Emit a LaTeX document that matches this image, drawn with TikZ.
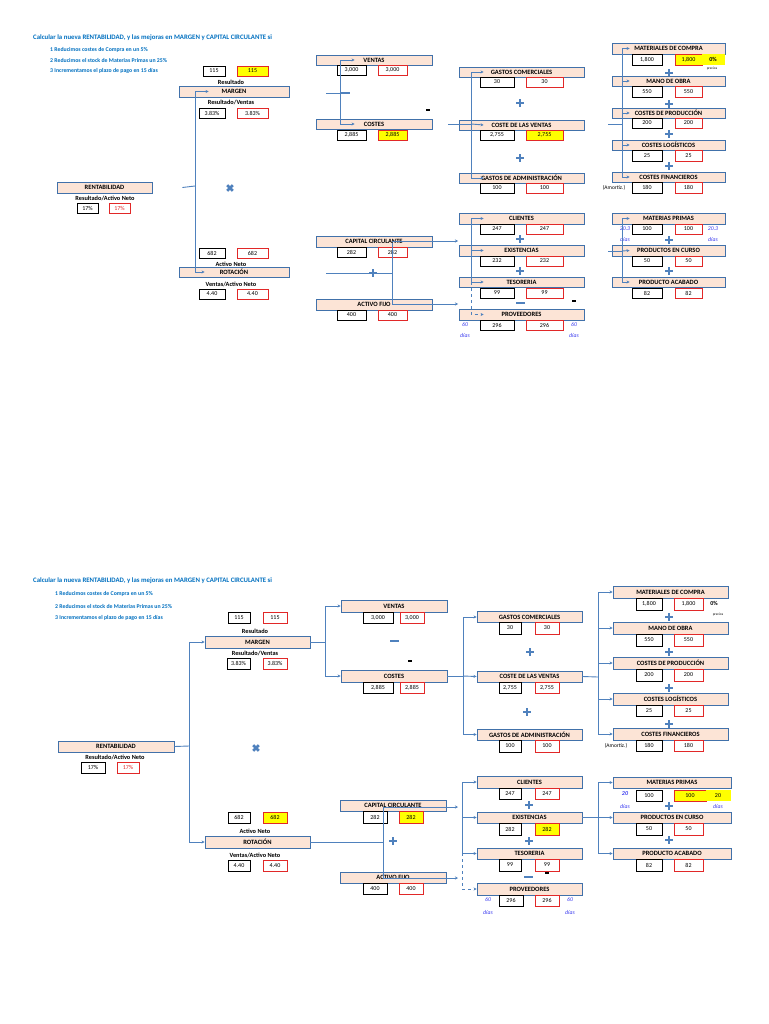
\documentclass[tikz,border=0pt]{standalone}
\usepackage{fontspec}
\setmainfont{Carlito}
\usetikzlibrary{arrows.meta}
\definecolor{hf}{RGB}{252,228,214}
\definecolor{hd}{RGB}{65,113,170}
\definecolor{cn}{RGB}{79,129,189}
\definecolor{tb}{RGB}{0,112,192}
\definecolor{dv}{RGB}{60,60,240}
\definecolor{rd}{RGB}{225,40,40}
\definecolor{yl}{RGB}{255,255,0}
\tikzset{
 hdr/.style={draw=hd,fill=hf,line width=0.9pt,inner sep=0pt,font=\fontsize{6.5}{7}\selectfont\bfseries},
 kb/.style={draw=black,line width=0.8pt,fill=white},
 rb/.style={draw=rd,line width=0.8pt,fill=white},
 yb/.style={draw=rd,line width=0.8pt,fill=yl},
 vt/.style={font=\fontsize{6}{7}\selectfont,inner sep=0pt},
 lab/.style={font=\fontsize{6.3}{7}\selectfont\bfseries,inner sep=0pt},
 con/.style={draw=cn,line width=0.9pt},
 arr/.style={con,-{Stealth[length=3pt,width=3pt]}},
 dsh/.style={arr,dashed},
 ttl/.style={font=\fontsize{5.8}{7}\selectfont\bfseries,text=tb,anchor=west,inner sep=0pt},
 ttlb/.style={ttl,font=\fontsize{6.8}{8}\selectfont\bfseries},
 dia/.style={font=\fontsize{5.8}{7}\selectfont\itshape,text=dv,inner sep=0pt},
}
\newcommand\hd[6]{\node[hdr,minimum width=#4pt,minimum height=#5pt] (#1) at (#2,#3) {#6};}
\newcommand\vb[6]{\draw[#1] (#2,#3) rectangle (#4,#5) node[midway,vt]{#6};}
\newcommand\plusg[2]{\fill[cn] (#1-4,#2-1.4) rectangle (#1+4,#2+1.4);\fill[cn] (#1-1.4,#2-4) rectangle (#1+1.4,#2+4);}
\newcommand\minusg[2]{\fill[cn] (#1-4.5,#2-1.4) rectangle (#1+4.5,#2+1.4);}
\newcommand\timesg[2]{\begin{scope}[rotate around={45:(#1,#2)}]\plusg{#1}{#2}\end{scope}}
\newcommand\dash[2]{\fill[black] (#1-1.6,#2-0.7) rectangle (#1+1.6,#2+0.7);}
\begin{document}
\begin{tikzpicture}[x=1pt,y=-1pt]
\useasboundingbox[fill=white] (0,0) rectangle (768,1024);
% ================= TOP PANEL =================
\node[ttlb] (t1) at (33,38) {Calcular la nueva RENTABILIDAD, y las mejoras en MARGEN y CAPITAL CIRCULANTE si};
\node[ttl] (t1a) at (50,50) {1 Reducimos costes de Compra en un 5\%};
\node[ttl] (t1b) at (50,60) {2 Reducimos el stock de Materias Primas un 25\%};
\node[ttl] (t1c) at (50,71) {3 Incrementamos el plazo de pago en 15 días};
\vb{kb}{203}{66}{225}{76}{115}\vb{yb}{237}{66}{268}{76}{115}
\node[lab] at (231,82) {Resultado};
\hd{margen1}{234}{91.5}{110}{11}{MARGEN}
\node[lab] at (231,102) {Resultado/Ventas};
\vb{kb}{199}{108}{225}{118}{3.83\%}\vb{rb}{237}{108}{268}{118}{3.83\%}
\hd{ventas1}{374}{60}{116}{10}{VENTAS}
\vb{kb}{337}{65}{366}{75}{3,000}\vb{rb}{378}{65}{407}{75}{3,000}
\minusg{345}{93}\dash{428}{110}
\hd{costes1}{374}{124}{116}{10}{COSTES}
\vb{kb}{337}{130}{366}{140}{2,885}\vb{yb}{378}{130}{407}{140}{2,885}
\hd{rent1}{104.5}{187.5}{95}{11}{RENTABILIDAD}
\node[lab] at (105,198) {Resultado/Activo Neto};
\vb{kb}{77}{203}{98}{213}{17\%}\node[vt,text=rd] at (119.5,208){17\%};\draw[rd,line width=0.8pt] (109,203) rectangle (130,213);
\timesg{230}{188}
\vb{kb}{199}{248}{225}{258}{682}\vb{rb}{237}{248}{268}{258}{682}
\node[lab] at (231,264) {Activo Neto};
\hd{rot1}{234}{272}{110}{10}{ROTACIÓN}
\node[lab] at (231,284) {Ventas/Activo Neto};
\vb{kb}{199}{289}{225}{299}{4.40}\vb{rb}{237}{289}{268}{299}{4.40}
\hd{cc1}{374}{241.5}{116}{11}{CAPITAL CIRCULANTE}
\vb{kb}{337}{247}{366}{257}{282}\vb{rb}{378}{247}{407}{257}{282}
\plusg{373}{273}
\hd{af1}{374}{304.5}{116}{11}{ACTIVO FIJO}
\vb{kb}{337}{310}{366}{320}{400}\vb{rb}{378}{310}{407}{320}{400}
% gastos
\hd{gc1}{521.5}{72}{125}{10}{GASTOS COMERCIALES}
\vb{kb}{480}{77}{514}{87}{30}\vb{rb}{526}{77}{563}{87}{30}
\plusg{520}{103}
\hd{cdlv1}{521.5}{125}{125}{10}{COSTE DE LAS VENTAS}
\vb{kb}{480}{130}{514}{140}{2,755}\vb{yb}{526}{130}{563}{140}{2,755}
\plusg{520}{158}
\hd{ga1}{521.5}{178}{125}{10}{GASTOS DE ADMINISTRACIÓN}
\vb{kb}{480}{183}{514}{193}{100}\vb{rb}{526}{183}{563}{193}{100}
\hd{cli1}{521.5}{218.5}{125}{11}{CLIENTES}
\vb{kb}{480}{224}{514}{234}{247}\vb{rb}{526}{224}{563}{234}{247}
\plusg{520}{239}
\hd{exi1}{521.5}{250.5}{125}{11}{EXISTENCIAS}
\vb{kb}{480}{256}{514}{266}{232}\vb{rb}{526}{256}{563}{266}{232}
\plusg{520}{271}
\hd{tes1}{521.5}{282}{125}{10}{TESORERIA}
\vb{kb}{480}{288}{514}{298}{99}\vb{rb}{526}{288}{563}{298}{99}
\minusg{520}{303}\dash{574}{301}
\hd{prov1}{521.5}{314.5}{125}{11}{PROVEEDORES}
\vb{kb}{480}{320}{514}{330}{296}\vb{rb}{526}{320}{563}{330}{296}
\node[dia] at (465,325){60};\node[dia] at (465,336){días};
\node[dia] at (574,325){60};\node[dia] at (574,336){días};
% costes column
\hd{mc1}{668.5}{48.5}{113}{11}{MATERIALES DE COMPRA}
\vb{kb}{632}{54}{662}{65}{1,800}\vb{yb}{675}{54}{702}{65}{1,800}
\fill[yl] (702,54) rectangle (725,65); \node[vt,font=\fontsize{6}{7}\selectfont\bfseries] at (713,59.5){0\%};
\node[vt,font=\fontsize{3.5}{4}\selectfont] at (712,69){precios};
\plusg{669}{73}
\hd{mo1}{668.5}{81}{113}{10}{MANO DE OBRA}
\vb{kb}{632}{86}{662}{97}{550}\vb{rb}{675}{86}{702}{97}{550}
\plusg{669}{104}
\hd{cp1}{668.5}{113}{113}{10}{COSTES DE PRODUCCIÓN}
\vb{kb}{632}{118}{662}{128}{200}\vb{rb}{675}{118}{702}{128}{200}
\plusg{669}{134}
\hd{cl1}{668.5}{145}{113}{10}{COSTES LOGÍSTICOS}
\vb{kb}{632}{150}{662}{161}{25}\vb{rb}{675}{150}{702}{161}{25}
\plusg{669}{166}
\hd{cf1}{668.5}{177}{113}{10}{COSTES FINANCIEROS}
\vb{kb}{632}{182}{662}{193}{180}\vb{rb}{675}{182}{702}{193}{180}
\node[vt,font=\fontsize{5.5}{6}\selectfont] at (614,187.5){(Amortiz.)};
\hd{mp1}{668.5}{218.5}{113}{11}{MATERIAS PRIMAS}
\vb{kb}{632}{224}{662}{234}{100}\vb{rb}{675}{224}{702}{234}{100}
\node[dia] at (625,229){20.3};\node[dia] at (625,240){días};
\node[dia] at (713,229){20.3};\node[dia] at (713,240){días};
\plusg{669}{240}
\hd{pc1}{668.5}{250.5}{113}{11}{PRODUCTOS EN CURSO}
\vb{kb}{632}{256}{662}{266}{50}\vb{rb}{675}{256}{702}{266}{50}
\plusg{669}{271}
\hd{pa1}{668.5}{282}{113}{10}{PRODUCTO ACABADO}
\vb{kb}{632}{288}{662}{298}{82}\vb{rb}{675}{288}{702}{298}{82}
% connectors top
\coordinate (j1) at (195,186);
\draw[con] ([xshift=30pt]rent1.east) -- (j1);
\draw[arr] (195,270) |- ([xshift=30pt]margen1.west);
\draw[arr] (195,186) |- ([xshift=26pt]rot1.west);
\draw[con] (326,93) -- (340,93);
\draw[arr] (340,93) |- ([xshift=39pt]ventas1.west);
\draw[arr] (340,93) |- ([xshift=39pt]costes1.west);
\draw[con] (326,273) -- (392,273);
\draw[con] (392,243) -- (392,305);
\draw[arr] (392,241) -- (458,241);
\draw[arr] (392,304) -- (458,304);
\draw[con] (448,124) -- (471,124);
\draw[arr] (471,124) |- ([xshift=25pt]gc1.west);
\draw[arr] (471,124) -- ([xshift=25pt]cdlv1.west);
\draw[arr] (471,124) |- ([xshift=25pt]ga1.west);
\draw[arr] (471,250) |- ([xshift=25pt]cli1.west);
\draw[arr] (471,241) |- ([xshift=25pt]exi1.west);
\draw[arr] (471,250) |- ([xshift=25pt]tes1.west);
\draw[dsh] (471,282) |- ([xshift=25pt]prov1.west);
\draw[con] (608,124) -- (622,124);
\draw[arr] (622,124) |- ([xshift=18pt]mc1.west);
\draw[arr] (622,124) |- ([xshift=18pt]mo1.west);
\draw[arr] (622,124) |- ([xshift=18pt]cp1.west);
\draw[arr] (622,124) |- ([xshift=18pt]cl1.west);
\draw[arr] (622,124) |- ([xshift=18pt]cf1.west);
\draw[con] (608,251) -- (622,251);
\draw[arr] (622,251) |- ([xshift=18pt]mp1.west);
\draw[arr] (622,251) -- ([xshift=18pt]pc1.west);
\draw[arr] (622,251) |- ([xshift=18pt]pa1.west);
% ================= BOTTOM PANEL =================
\node[ttlb] (t2) at (33,581) {Calcular la nueva RENTABILIDAD, y las mejoras en MARGEN y CAPITAL CIRCULANTE si};
\node[ttl] (t2a) at (55,594) {1 Reducimos costes de Compra en un 5\%};
\node[ttl] (t2b) at (55,606) {2 Reducimos el stock de Materias Primas un 25\%};
\node[ttl] (t2c) at (55,618) {3 Incrementamos el plazo de pago en 15 días};
\vb{kb}{228}{612}{250}{623}{115}\vb{rb}{263}{612}{287}{623}{115}
\node[lab] at (255,631) {Resultado};
\hd{margen2}{257.5}{642}{105}{12}{MARGEN}
\node[lab] at (255,653) {Resultado/Ventas};
\vb{kb}{227}{658}{250}{669}{3.83\%}\vb{rb}{263}{658}{287}{669}{3.83\%}
\hd{ventas2}{394}{606}{106}{12}{VENTAS}
\vb{kb}{363}{612}{393}{623}{3,000}\vb{rb}{400}{612}{424}{623}{3,000}
\minusg{394}{641}\dash{410}{661}
\hd{costes2}{394}{676}{106}{12}{COSTES}
\vb{kb}{363}{682}{393}{693}{2,885}\vb{rb}{400}{682}{424}{693}{2,885}
\hd{rent2}{116}{746.5}{116}{11}{RENTABILIDAD}
\node[lab] at (115,757) {Resultado/Activo Neto};
\vb{kb}{81}{762}{105}{773}{17\%}\draw[rd,line width=0.8pt] (117,762) rectangle (139,773);\node[vt,text=rd] at (128,767.5){17\%};
\timesg{256}{748}
\vb{kb}{228}{812}{250}{823}{682}\vb{yb}{263}{812}{287}{823}{682}
\node[lab] at (255,831) {Activo Neto};
\hd{rot2}{257.5}{842}{105}{12}{ROTACIÓN}
\node[lab] at (255,855) {Ventas/Activo Neto};
\vb{kb}{228}{860}{250}{871}{4.40}\vb{rb}{263}{860}{287}{871}{4.40}
\hd{cc2}{393}{805.5}{106}{11}{CAPITAL CIRCULANTE}
\vb{kb}{363}{811}{387}{823}{282}\vb{yb}{399}{811}{423}{823}{282}
\plusg{393}{841}
\hd{af2}{393}{877.5}{106}{11}{ACTIVO FIJO}
\vb{kb}{363}{883}{387}{894}{400}\vb{rb}{399}{883}{423}{894}{400}
\hd{gc2}{529.5}{617}{105}{11}{GASTOS COMERCIALES}
\vb{kb}{499}{622}{521}{634}{30}\vb{rb}{535}{622}{559}{634}{30}
\plusg{530}{652}
\hd{cdlv2}{529.5}{676.5}{105}{11}{COSTE DE LAS VENTAS}
\vb{kb}{499}{682}{521}{693}{2,755}\vb{rb}{535}{682}{559}{693}{2,755}
\plusg{527}{712}
\hd{ga2}{529.5}{734.5}{105}{11}{GASTOS DE ADMINISTRACIÓN}
\vb{kb}{499}{740}{521}{752}{100}\vb{rb}{535}{740}{559}{752}{100}
\hd{cli2}{529.5}{782}{105}{12}{CLIENTES}
\vb{kb}{499}{788}{521}{799}{247}\vb{rb}{535}{788}{559}{799}{247}
\plusg{529}{805}
\hd{exi2}{529.5}{817.5}{105}{11}{EXISTENCIAS}
\vb{kb}{499}{823}{521}{835}{282}\vb{yb}{535}{823}{559}{835}{282}
\plusg{529}{841}
\hd{tes2}{529.5}{853.5}{105}{11}{TESORERIA}
\vb{kb}{499}{859}{521}{871}{99}\vb{rb}{535}{859}{559}{871}{99}
\minusg{528}{877}\dash{547}{873}
\hd{prov2}{529.5}{889}{105}{12}{PROVEEDORES}
\vb{kb}{499}{895}{523}{906}{296}\vb{rb}{535}{895}{559}{906}{296}
\node[dia] at (488,900){60};\node[dia] at (488,912){días};
\node[dia] at (570,900){60};\node[dia] at (570,912){días};
\hd{mc2}{670.5}{592}{115}{12}{MATERIALES DE COMPRA}
\vb{kb}{636}{598}{662}{610}{1,800}\vb{rb}{674}{598}{703}{610}{1,800}
\node[vt,font=\fontsize{6}{7}\selectfont\bfseries] at (714,603){0\%};
\node[vt,font=\fontsize{3.5}{4}\selectfont] at (718,615){precios};
\plusg{669}{617}
\hd{mo2}{670.5}{628}{115}{12}{MANO DE OBRA}
\vb{kb}{636}{634}{662}{646}{550}\vb{rb}{674}{634}{703}{646}{550}
\plusg{669}{652}
\hd{cp2}{670.5}{663}{115}{12}{COSTES DE PRODUCCIÓN}
\vb{kb}{636}{669}{662}{681}{200}\vb{rb}{674}{669}{703}{681}{200}
\plusg{669}{688}
\hd{cl2}{670.5}{699}{115}{12}{COSTES LOGÍSTICOS}
\vb{kb}{636}{705}{662}{716}{25}\vb{rb}{674}{705}{703}{716}{25}
\plusg{669}{724}
\hd{cf2}{670.5}{734}{115}{12}{COSTES FINANCIEROS}
\vb{kb}{636}{740}{662}{751}{180}\vb{rb}{674}{740}{703}{751}{180}
\node[vt,font=\fontsize{5.5}{6}\selectfont] at (616,746){(Amortiz.)};
\hd{mp2}{672}{782.5}{118}{11}{MATERIAS PRIMAS}
\vb{kb}{636}{790}{662}{801}{100}\vb{yb}{674}{790}{706}{801}{100}
\fill[yl] (706,790) rectangle (731,801);\node[dia,text=black,font=\fontsize{6}{7}\selectfont] at (718,795.5){20};
\node[dia,font=\fontsize{6}{7}\selectfont\bfseries\itshape] at (625,794){20};\node[dia] at (625,806){días};
\node[dia] at (718,806){días};
\plusg{669}{806}
\hd{pc2}{672}{817.5}{118}{11}{PRODUCTOS EN CURSO}
\vb{kb}{636}{823}{662}{835}{50}\vb{rb}{674}{823}{703}{835}{50}
\plusg{669}{840}
\hd{pa2}{672}{853.5}{118}{11}{PRODUCTO ACABADO}
\vb{kb}{636}{859}{662}{871}{82}\vb{rb}{674}{859}{703}{871}{82}
% connectors bottom
\coordinate (j2) at (189,746);
\draw[con] (rent2.east) -- (j2);
\draw[arr] (j2) |- (margen2.west);
\draw[arr] (j2) |- (rot2.west);
\coordinate (j3) at (325,642);
\draw[con] (margen2.east) -- (j3);
\draw[arr] (j3) |- (ventas2.west);
\draw[arr] (j3) |- (costes2.west);
\coordinate (j4) at (383,842);
\draw[con] (rot2.east) -- (j4);
\draw[con] (383,807) -- (383,878);
\draw[arr] (383,807) -- (458,807);
\draw[arr] (383,878) -- (458,878);
\coordinate (j5) at (463,676);
\draw[con] (costes2.east) -- (j5);
\draw[arr] (j5) |- (gc2.west);
\draw[arr] (j5) -- (cdlv2.west);
\draw[arr] (j5) |- (ga2.west);
\coordinate (j6) at (462,807);
\draw[arr] (j6) |- (cli2.west);
\draw[arr] (j6) |- (exi2.west);
\draw[arr] (j6) |- (tes2.west);
\draw[dsh] (462,853) |- (prov2.west);
\coordinate (j7) at (598,677);
\draw[con] (cdlv2.east) -- (j7);
\draw[arr] (j7) |- (mc2.west);
\draw[arr] (j7) |- (mo2.west);
\draw[arr] (j7) |- (cp2.west);
\draw[arr] (j7) |- (cl2.west);
\draw[arr] (j7) |- (cf2.west);
\coordinate (j8) at (598,817.5);
\draw[con] (exi2.east) -- (j8);
\draw[arr] (j8) |- (mp2.west);
\draw[arr] (j8) -- (pc2.west);
\draw[arr] (j8) |- (pa2.west);
\end{tikzpicture}
\end{document}
